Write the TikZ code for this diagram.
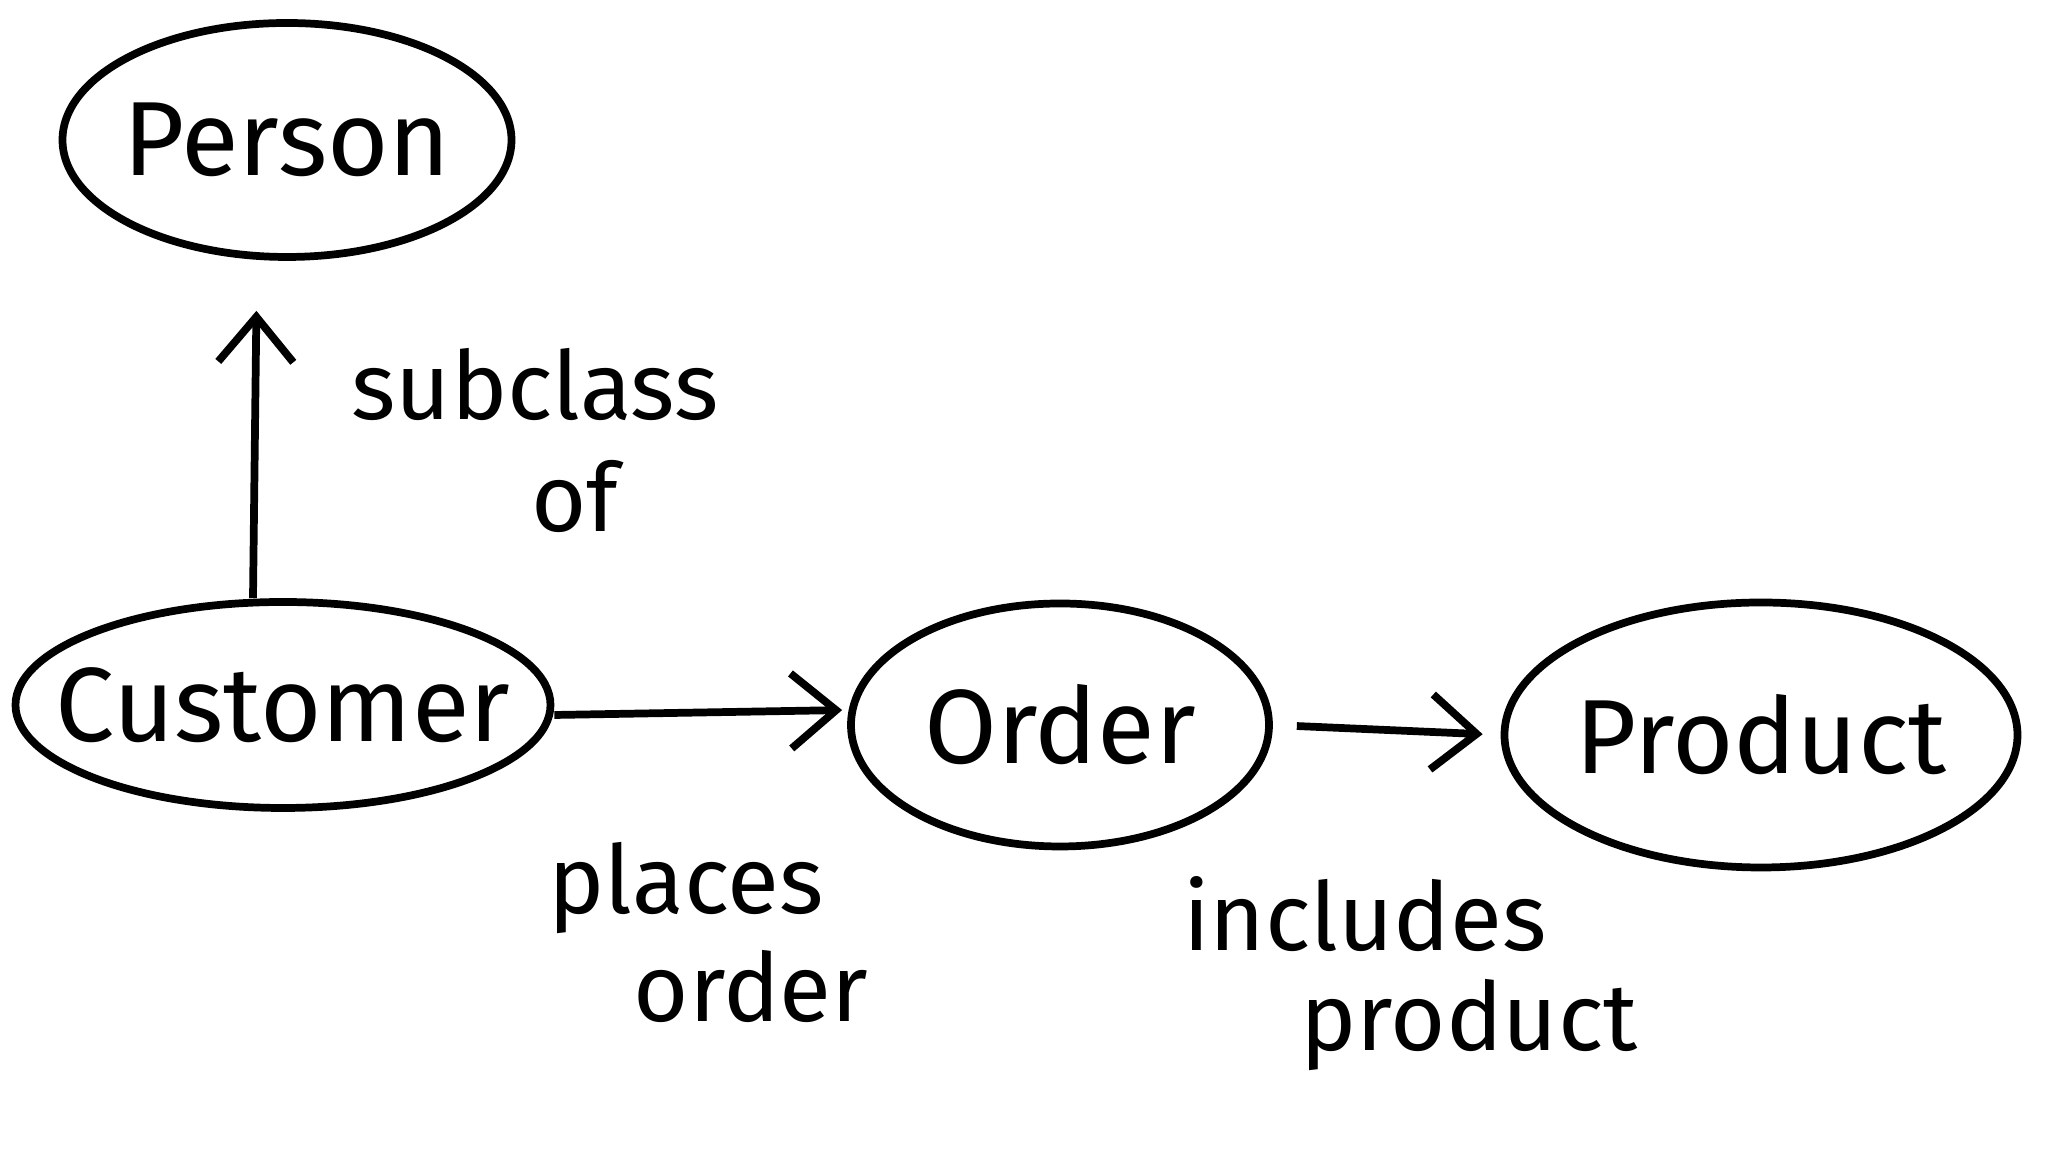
\documentclass[tikz,border=0pt]{standalone}
\usepackage{fontspec}
\setmainfont{Fira Sans}
\usepackage{tikz}
\usetikzlibrary{shapes.geometric,arrows.meta}
\tikzset{
  font={\fontsize{30pt}{36pt}\selectfont},
  concept/.style={draw=black, line width=2.2pt, ellipse, inner sep=0pt},
  relname/.style={font={\fontsize{27pt}{32pt}\selectfont}},
  link/.style={line width=2.2pt, -{Straight Barb[length=4.5mm, width=7.5mm, line width=2.2pt]}}}
%% zero width text, so that the ellipse keeps the size it is given
\newcommand{\conceptname}[1]{\makebox[0pt]{#1}}

\begin{document}
\begin{tikzpicture}
%% The page is fixed to the size of the sketch, margins included.
    \useasboundingbox (0,0) rectangle (20.48,11.52);
%% The four concepts. Each ellipse gets its own size so it looks like the drawing.
    \node[concept, minimum width=4.49cm, minimum height=2.34cm] (person) at (2.87,10.12) {\conceptname{Person}};
    \node[concept, minimum width=5.35cm, minimum height=2.06cm] (customer) at (2.83,4.47) {\conceptname{Customer}};
    \node[concept, minimum width=4.18cm, minimum height=2.43cm] (order) at (10.60,4.27) {\conceptname{Order}};
    \node[concept, minimum width=5.13cm, minimum height=2.65cm] (product) at (17.61,4.17) {\conceptname{Product}};
%% The relations between them.
    \draw[link, shorten >=0.5cm] ([xshift=-0.3cm]customer.north) -- ([xshift=-0.3cm]person.south);
    \draw[link, shorten >=0.05cm] ([yshift=-0.1cm]customer.east) -- ([yshift=0.15cm]order.west);
    \draw[link, shorten <=0.24cm, shorten >=0.18cm] (order.east) -- (product.west);
%% Names of the relations, one node per line.
    \node[relname] (subclass) at (5.35,7.67) {subclass};
    \node[relname] (subclassof) at (5.75,6.56) {of};
    \node[relname] (places) at (6.86,2.64) {places};
    \node[relname] (placesorder) at (7.51,1.66) {order};
    \node[relname] (includes) at (13.65,2.38) {includes};
    \node[relname] (includesproduct) at (14.69,1.27) {product};
\end{tikzpicture}
\end{document}
